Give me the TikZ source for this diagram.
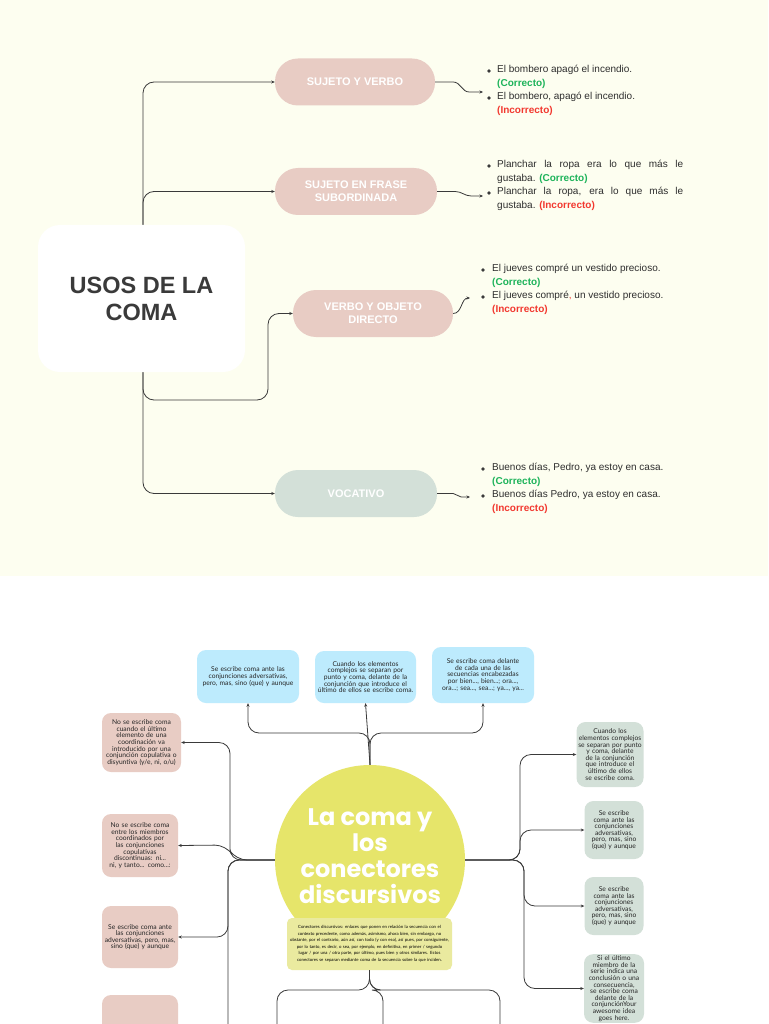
\documentclass[tikz,border=0pt]{standalone}
\usepackage{fontspec}
\setmainfont{Liberation Sans}
\newfontfamily\pop{Poppins}
\newfontfamily\lat{Lato}
\usetikzlibrary{arrows.meta}
\definecolor{cream}{HTML}{FDFEF0}
\definecolor{pinkb}{HTML}{E8CCC4}
\definecolor{greenb}{HTML}{D3E0D8}
\definecolor{blueb}{HTML}{BDEBFD}
\definecolor{yel}{HTML}{E6E56A}
\definecolor{yelb}{HTML}{EAEA9F}
\definecolor{okg}{HTML}{1DB35A}
\definecolor{bad}{HTML}{F2382F}
\definecolor{ln}{HTML}{3A3A3A}
\hyphenpenalty=10000\relax
\tikzset{
 pill/.style={rounded corners=23pt,fill=pinkb,text=white,font=\bfseries\fontsize{11}{13}\selectfont,align=center,inner sep=0},
 conn/.style={draw=ln,line width=0.8pt,rounded corners=11pt},
 arr/.style={conn,-{Stealth[length=3.5pt,width=3pt]}},
 btxt/.style={anchor=north west,font=\fontsize{10}{13.5}\selectfont,text=ln!80!black,inner sep=0,align=justify},
 sbox/.style={rounded corners=9pt,inner sep=1.5pt,align=center,font=\lat\fontsize{6.7}{6.6}\selectfont,text=black!85},
}
\begin{document}
\begin{tikzpicture}[x=1pt,y=-1pt]
\clip (0,0) rectangle (768,1024);
\fill[white] (0,0) rectangle (768,1024);
\fill[cream] (0,0) rectangle (768,576);
% top nodes
\node[pill,minimum width=160,minimum height=47] (sv) at (355,82) {SUJETO Y VERBO};
\node[pill,minimum width=162,minimum height=47] (sf) at (356,191.5) {SUJETO EN FRASE\\SUBORDINADA};
\node[pill,minimum width=160,minimum height=47] (vb) at (373,313.5) {VERBO Y OBJETO\\DIRECTO};
\node[pill,fill=greenb,minimum width=162,minimum height=47] (voc) at (356,493.5) {VOCATIVO};
\coordinate (tr) at (143,300);
\draw[arr] (tr) |- (sv.west);
\draw[arr] (tr) |- (sf.west);
\draw[arr] (tr) |- (voc.west);
\draw[arr] (tr) |- (268,400) |- (vb.west);
\node[rounded corners=22pt,fill=white,minimum width=207,minimum height=147,inner sep=0,align=center,font=\bfseries\fontsize{23.5}{27}\selectfont,text=ln] (usos) at (141.5,298.5) {USOS DE LA\\COMA};
% right arrows
\coordinate (a1) at (483,92);\coordinate (a2) at (483,196);\coordinate (a3) at (470,298);\coordinate (a4) at (470,497);
\draw[arr,rounded corners=0] (sv.east) -- ++(18,0) to[out=0,in=180] ++(16,10) -- (a1);
\draw[arr,rounded corners=0] (sf.east) -- ++(18,0) to[out=0,in=180] ++(16,4.5) -- (a2);
\draw[arr,rounded corners=0] (vb.east) to[out=0,in=180] (a3);
\draw[arr,rounded corners=0] (voc.east) -- ++(16,0) to[out=0,in=180] ++(8,3.5) -- (a4);
% bullets
\foreach \x/\y in {489/71,489/98,489/166,489/193,483/270,483/297,483/469,483/496}
  \fill[ln] (\x,\y) circle (1.8);
\node[btxt,text width=200] (t1) at (497,65) {El bombero apagó el incendio.\\{\color{okg}\bfseries(Correcto)}};
\node[btxt,text width=200] (t2) at (497,92) {El bombero, apagó el incendio.\\{\color{bad}\bfseries(Incorrecto)}};
\node[btxt,text width=186] (t3) at (497,160) {Planchar la ropa era lo que más le gustaba. {\color{okg}\bfseries(Correcto)}};
\node[btxt,text width=186] (t4) at (497,187) {Planchar la ropa, era lo que más le gustaba. {\color{bad}\bfseries(Incorrecto)}};
\node[btxt,text width=200] (t5) at (492,264) {El jueves compré un vestido precioso.\\{\color{okg}\bfseries(Correcto)}};
\node[btxt,text width=200] (t6) at (492,291) {El jueves compré{\color{bad},} un vestido precioso.\\{\color{bad}\bfseries(Incorrecto)}};
\node[btxt,text width=200] (t7) at (492,463) {Buenos días, Pedro, ya estoy en casa.\\{\color{okg}\bfseries(Correcto)}};
\node[btxt,text width=200] (t8) at (492,490) {Buenos días Pedro, ya estoy en casa.\\{\color{bad}\bfseries(Incorrecto)}};
% bottom
\node[circle,fill=yel,minimum size=190,inner sep=0] (circ) at (370,860) {};
\node[sbox,fill=blueb,minimum width=102,minimum height=53,text width=98] (b1) at (248,676.5) {Se escribe coma ante las conjunciones adversativas, pero, mas, sino (que) y aunque};
\node[sbox,fill=blueb,minimum width=101,minimum height=52,text width=97] (b2) at (365.5,677) {Cuando los elementos complejos se separan por punto y coma, delante de la conjunción que introduce el último de ellos se escribe coma.};
\node[sbox,fill=blueb,minimum width=102,minimum height=56,text width=98] (b3) at (483,675) {Se escribe coma delante de cada una de las secuencias encabezadas por bien..., bien...; ora..., ora...; sea..., sea...; ya..., ya...};
\node[sbox,fill=pinkb,minimum width=79,minimum height=59,text width=76] (p1) at (141.5,742.5) {No se escribe coma cuando el último elemento de una coordinación va introducido por una conjunción copulativa o disyuntiva (y/e, ni, o/u)};
\node[sbox,fill=pinkb,minimum width=76,minimum height=63,text width=72] (p2) at (140,845.5) {No se escribe coma entre los miembros coordinados por las conjunciones copulativas discontinuas: ni... ni, y tanto... como...:};
\node[sbox,fill=pinkb,minimum width=76,minimum height=62,text width=72] (p3) at (140,937) {Se escribe coma ante las conjunciones adversativas, pero, mas, sino (que) y aunque};
\node[sbox,fill=pinkb,minimum width=76,minimum height=60] (p4) at (140,1025) {};
\node[sbox,fill=greenb,minimum width=66,minimum height=65,text width=64] (g1) at (610,754.5) {Cuando los elementos complejos se separan por punto y coma, delante de la conjunción que introduce el último de ellos se escribe coma.};
\node[sbox,fill=greenb,minimum width=58,minimum height=58,text width=56] (g2) at (614,830) {Se escribe coma ante las conjunciones adversativas, pero, mas, sino (que) y aunque};
\node[sbox,fill=greenb,minimum width=58,minimum height=58,text width=56] (g3) at (614,906) {Se escribe coma ante las conjunciones adversativas, pero, mas, sino (que) y aunque};
\node[sbox,fill=greenb,minimum width=58,minimum height=57,text width=57] (g4) at (614,988.5) {Si el último miembro de la serie indica una conclusión o una consecuencia, se escribe coma delante de la conjunciónYour awesome idea goes here.};
% connectors bottom
\draw[arr] (circ.north) |- (b1.south |- 0,733) -- (b1.south);
\draw[arr] (circ.north) -- (b2.south);
\draw[arr] (circ.north) |- (b3.south |- 0,733) -- (b3.south);
\draw[arr] (circ.west) -- (230,860) |- (p1.east);
\draw[arr] (circ.west) -- (236,860) -- (226,845) -- (p2.east);
\draw[arr] (circ.west) -- (228,860) |- (p3.east);
\draw[conn] (circ.west) -- (228,860) -- (228,1030);
\draw[arr] (circ.east) -- (520,860) |- (g1.west);
\draw[arr] (circ.east) -- (520,860) |- (g2.west);
\draw[arr] (circ.east) -- (524,860) |- (g3.west);
\draw[arr] (circ.east) -- (524,860) |- (g4.west);
\node[font=\pop\bfseries\fontsize{24}{26}\selectfont,text=white,align=center] (title) at (370,856) {La coma y\\los\\conectores\\discursivos};
\node[fill=yelb,rounded corners=5pt,text width=160,inner sep=2.5pt,align=center,font=\lat\fontsize{4.3}{6.5}\selectfont,minimum height=52] (desc) at (369.5,944) {Conectores discursivos: enlaces que ponen en relación la secuencia con el contexto precedente, como además, asimismo, ahora bien, sin embargo, no obstante, por el contrario, aún así, con todo (y con eso), así pues, por consiguiente, por lo tanto, es decir, o sea, por ejemplo, en definitiva, en primer / segundo lugar / por una / otra parte, por último, pues bien y otros similares. Estos conectores se separan mediante coma de la secuencia sobre la que inciden.};
\draw[conn] (desc.south) |- (277,990) -- (277,1030);
\draw[conn] (desc.south) |- (500,990) -- (500,1030);
\draw[conn] (desc.south) |- (383,990) -- (383,1030);
\end{tikzpicture}
\end{document}
